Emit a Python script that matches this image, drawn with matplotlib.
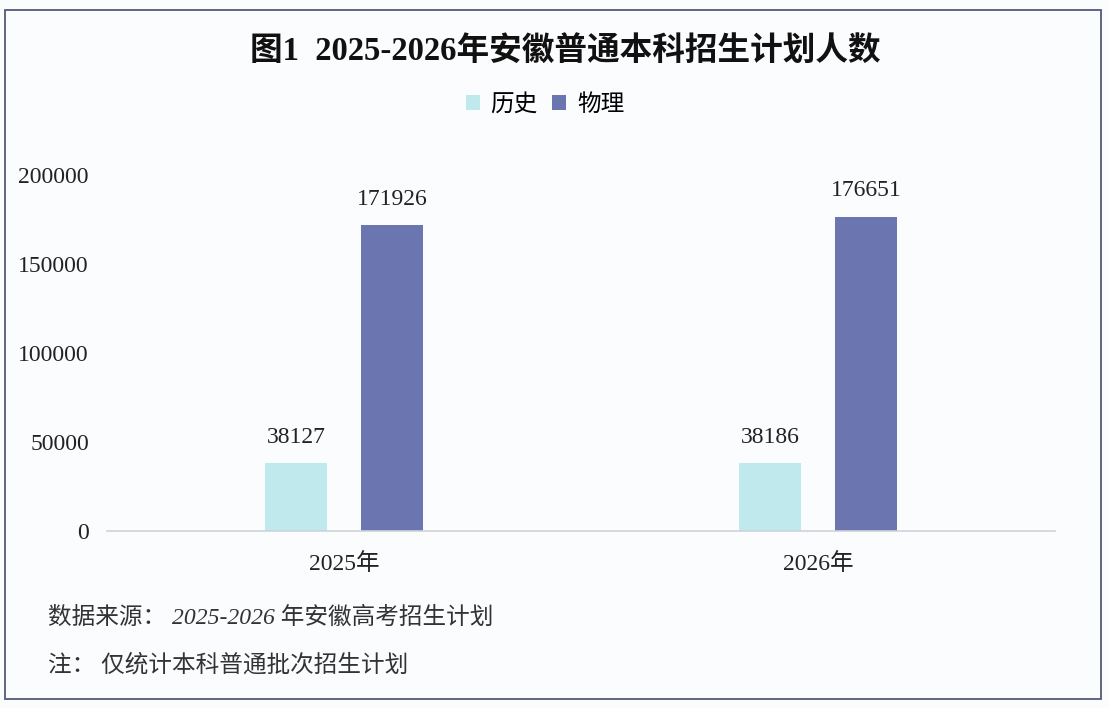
import numpy as np
import matplotlib.pyplot as plt
from matplotlib.patches import Rectangle

plt.rcParams['font.family'] = ['Liberation Serif', 'Noto Sans CJK SC', 'DejaVu Sans']

# 数据
years = ['2025年', '2026年']
history = [38127, 38186]   # 历史
physics = [171926, 176651]  # 物理
yticks = [0, 50000, 100000, 150000, 200000]

title = '图1  2025-2026年安徽普通本科招生计划人数'
note1 = '数据来源： 2025-2026 年安徽高考招生计划'
note2 = '注： 仅统计本科普通批次招生计划'

c_hist = '#bfe9ec'
c_phys = '#6b76b0'

W, H = 1110, 708
fig = plt.figure(figsize=(W / 100, H / 100), dpi=100)
fig.patch.set_facecolor('#fbfcfe')

# 外框
fig.patches.append(Rectangle((5 / W, 1 - 699 / H), 1096 / W, 689 / H,
                             transform=fig.transFigure, fill=False,
                             edgecolor='#55587a', linewidth=1.3))

ax = fig.add_axes([107 / W, 1 - 531 / H, 948 / W, 356 / H])
ax.set_facecolor('none')

x = np.arange(len(years))
w = 0.131
off = 0.101
b1 = ax.bar(x - off, history, w, color=c_hist, label='历史')
b2 = ax.bar(x + off, physics, w, color=c_phys, label='物理')

for bars in (b1, b2):
    for b in bars:
        ax.annotate(f'{int(b.get_height())}',
                    (b.get_x() + b.get_width() / 2, b.get_height()),
                    xytext=(0, 11), textcoords='offset points',
                    ha='center', va='bottom', fontsize=17, color='#222222')

ax.set_xlim(-0.5, 1.5)
ax.set_ylim(0, 200000)
ax.set_xticks(x)
ax.set_xticklabels(years, fontsize=17, color='#222222')
ax.set_yticks(yticks)
ax.set_yticklabels([str(v) for v in yticks], fontsize=17, color='#222222')
ax.tick_params(axis='both', length=0)
ax.tick_params(axis='y', pad=13)
ax.tick_params(axis='x', pad=16)
for s in ('top', 'right', 'left'):
    ax.spines[s].set_visible(False)
ax.spines['bottom'].set_color('#cfd2d8')
ax.spines['bottom'].set_linewidth(1.2)

fig.text(565 / W, 1 - 51 / H, title, ha='center', va='center',
         fontsize=23.5, fontweight='bold', color='#111111')

fig.legend(loc='center', bbox_to_anchor=(545 / W, 1 - 105 / H), ncol=2,
           frameon=False, fontsize=17, handlelength=0.6, handleheight=0.6,
           handletextpad=0.45, columnspacing=0.6)

fig.text(48 / W, 1 - 618 / H, note1, ha='left', va='center',
         fontsize=17, style='italic', color='#333333')
fig.text(48 / W, 1 - 665 / H, note2, ha='left', va='center',
         fontsize=17, style='italic', color='#333333')

fig.savefig('out.png', dpi=100, facecolor=fig.get_facecolor())
